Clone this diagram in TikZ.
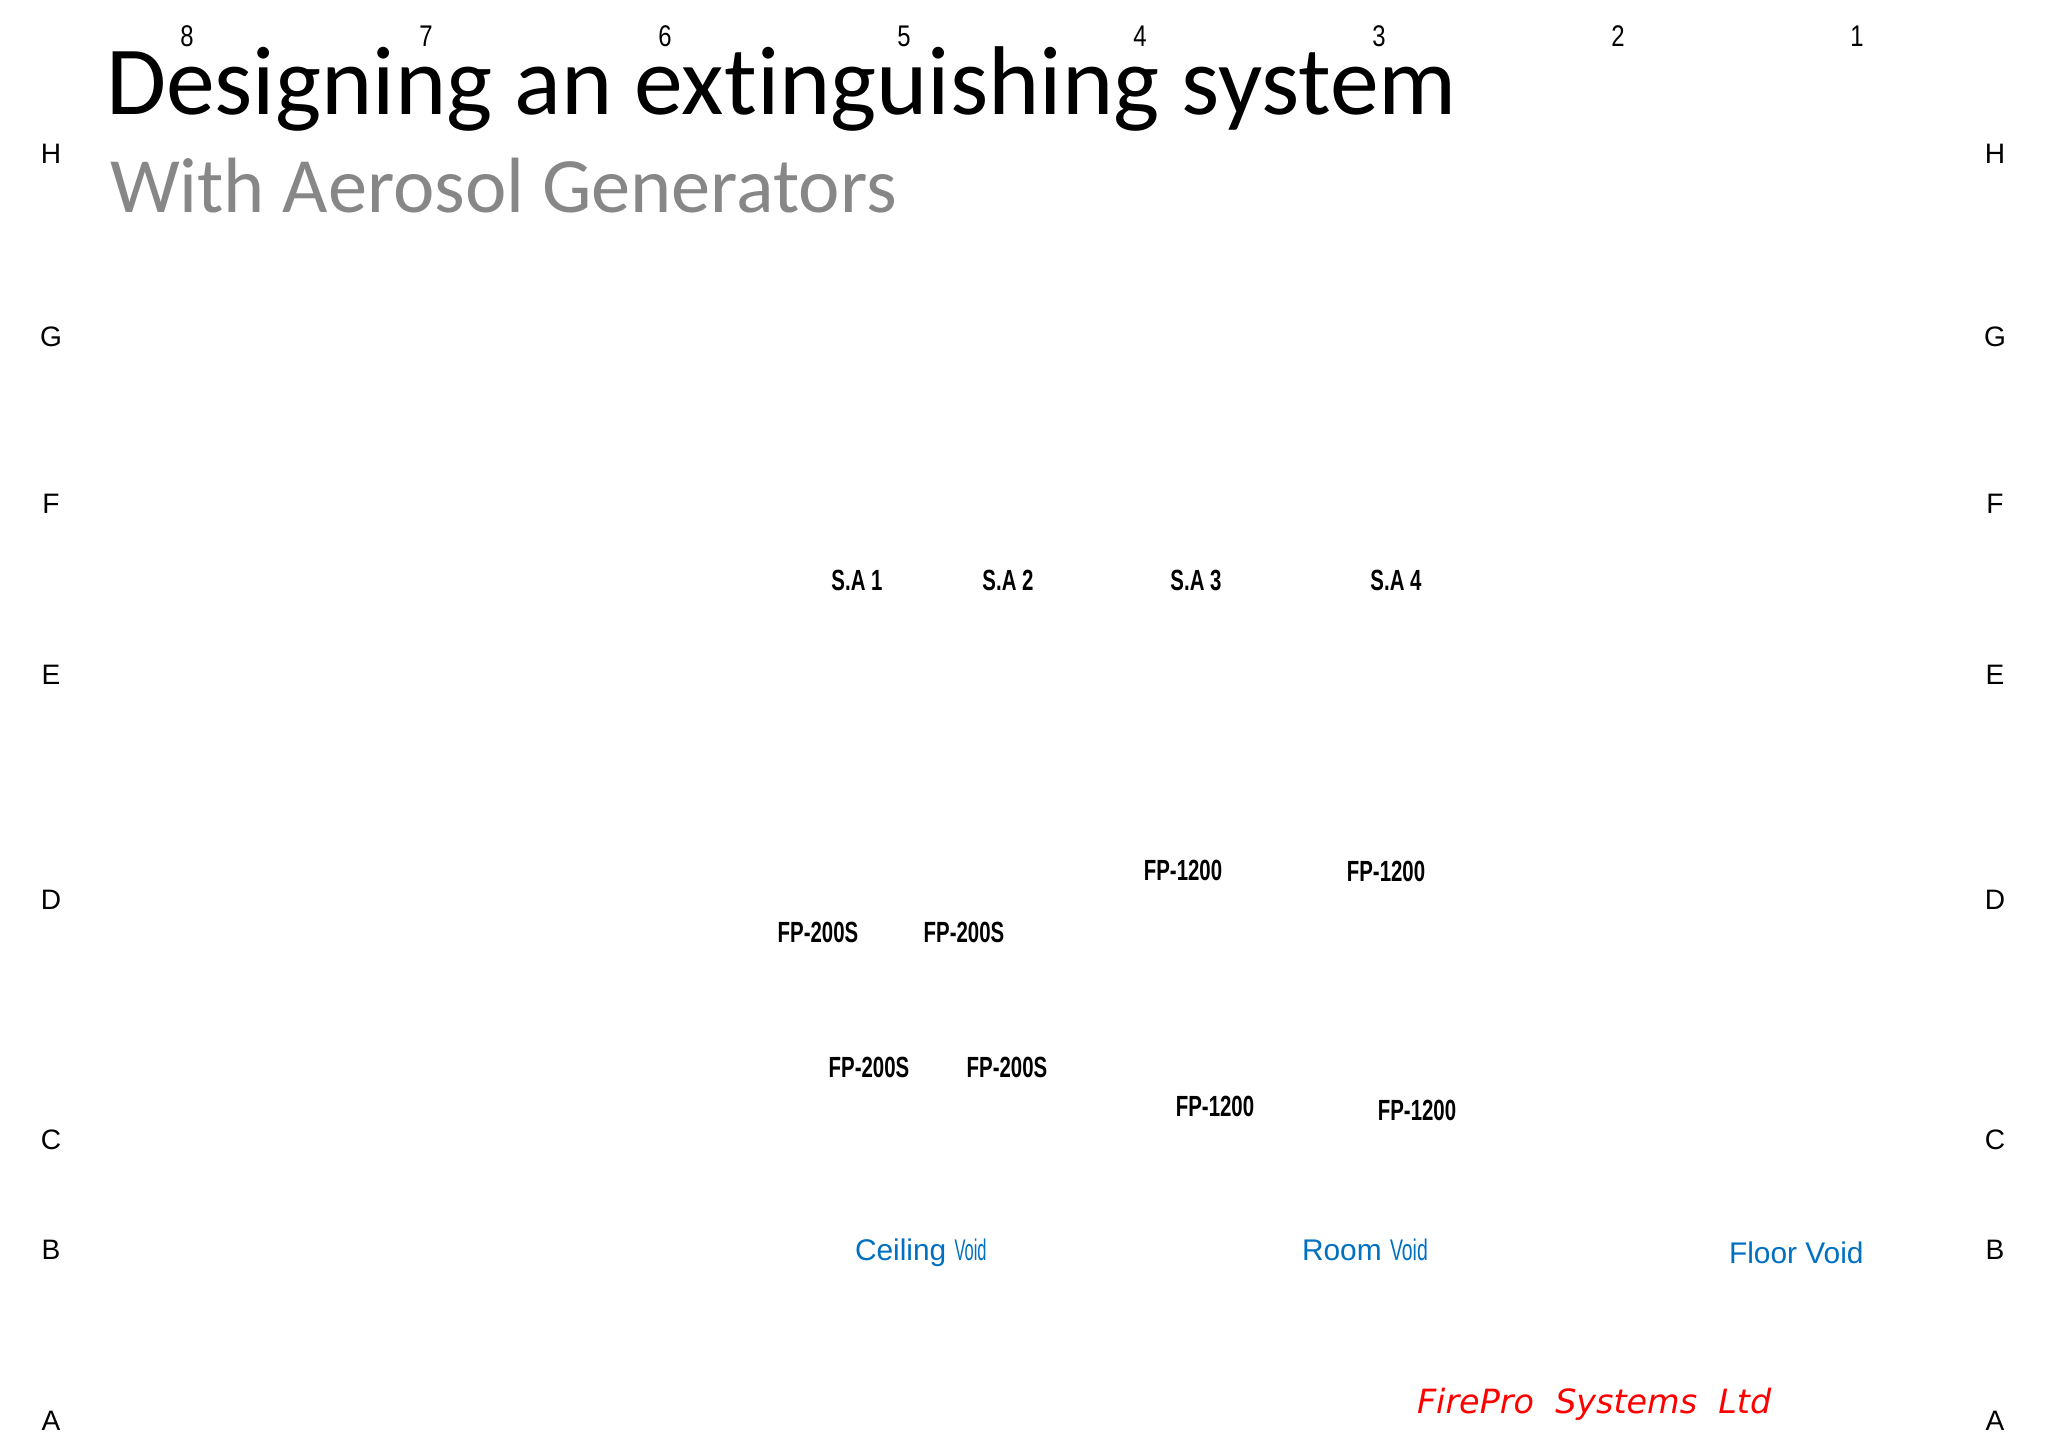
\documentclass[tikz,border=0pt]{standalone}
\usepackage{fontspec}
\setmainfont{Liberation Sans}
\newfontfamily\titlefont[Ligatures=NoCommon]{Carlito}
\newfontfamily\gridfont[FakeStretch=0.8]{Liberation Sans}
\newfontfamily\tagfont[FakeStretch=0.7]{Liberation Sans Bold}
\newfontfamily\brandfont{DejaVu Sans}
\usepackage{xcolor}
\usepackage{tikz}
\usetikzlibrary{positioning}
\definecolor{subgray}{HTML}{878787}
\definecolor{voidblue}{HTML}{0070C0}
\definecolor{brandred}{HTML}{FF0000}

\begin{document}
\begin{tikzpicture}[
        x=0.1mm, y=-0.1mm,
        every node/.style={inner sep=0pt, outer sep=0pt},
        title/.style={anchor=base west, font=\titlefont\fontsize{27.8}{30}\selectfont},
        subtitle/.style={anchor=base west, text=subgray, font=\titlefont\fontsize{22.3}{24}\selectfont},
        gridcol/.style={font=\gridfont\fontsize{8.5}{10}\selectfont},
        gridrow/.style={font=\fontsize{8}{10}\selectfont},
        tag/.style={font=\tagfont\fontsize{8.3}{10}\selectfont},
        zone/.style={text=voidblue, font=\fontsize{8.5}{10}\selectfont},
        brand/.style={text=brandred, font=\brandfont\itshape\fontsize{9.5}{11}\selectfont}
    ]
    \useasboundingbox (0,0) rectangle (2048,1448);

    % Frame grid ------------------------------------------
    \foreach \n/\x in {8/187, 7/426, 6/665, 5/904, 4/1140, 3/1379, 2/1618, 1/1857}
        \node[gridcol] (col\n) at (\x,36) {\n};
    \foreach \r/\y in {H/154, G/337, F/504, E/675, D/900, C/1140, B/1250, A/1421} {
        \node[gridrow] (rowL\r) at (51,\y) {\r};
        \node[gridrow] (rowR\r) at (1995,\y) {\r};
    }

    % Heading ---------------------------------------------
    \node[title] (head) at (106,115) {Designing an extinguishing system};
    \node[subtitle] (subhead) at (110,212) {With Aerosol Generators};

    % Sounder alarms --------------------------------------
    \node[tag] (sa1) at (857,580) {S.A 1};
    \node[tag] (sa2) at (1008,580) {S.A 2};
    \node[tag] (sa3) at (1196,580) {S.A 3};
    \node[tag] (sa4) at (1396,580) {S.A 4};

    % Generators ------------------------------------------
    \node[tag] (big1) at (1183,870) {FP-1200};
    \node[tag] (big2) at (1386,871) {FP-1200};
    \node[tag] (small1) at (818,932) {FP-200S};
    \node[tag] (small2) at (964,932) {FP-200S};
    \node[tag] (small3) at (869,1067) {FP-200S};
    \node[tag] (small4) at (1007,1067) {FP-200S};
    \node[tag] (big3) at (1215,1106) {FP-1200};
    \node[tag] (big4) at (1417,1110) {FP-1200};

    % Zones -----------------------------------------------
    \node[zone, anchor=west] (ceiling) at (855,1253) {Ceiling \scalebox{0.55}[1]{Void}};
    \node[zone, anchor=west] (room) at (1302,1250) {Room \scalebox{0.65}[1]{Void}};
    \node[zone, anchor=west] (floor) at (1729,1253) {Floor Void};

    % Company ---------------------------------------------
    \node[brand, anchor=west] (firm) at (1417,1404) {FirePro\ \ Systems\ \ Ltd};
\end{tikzpicture}
\end{document}
